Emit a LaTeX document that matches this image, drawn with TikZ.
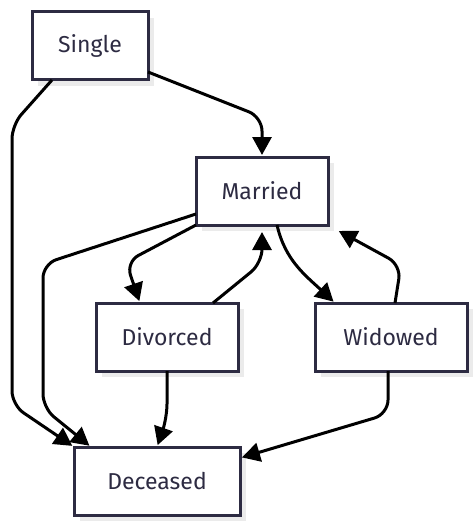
\documentclass[tikz,border=0pt]{standalone}
\usepackage{fontspec}
\setmainfont{Fira Sans}
\usepackage{xcolor}
\definecolor{borde}{HTML}{2D2B42}
\definecolor{sombra}{HTML}{EBEBEB}
\usetikzlibrary{arrows.meta,positioning,shadows}

\begin{document}
\begin{tikzpicture}[x=1pt,y=-1pt,
  estado/.style={draw=borde,line width=3pt,fill=white,text=borde,minimum height=68pt,inner sep=0pt,outer sep=0pt,
    font=\fontsize{23}{27}\selectfont,drop shadow={shadow xshift=6pt,shadow yshift=-6pt,fill=sombra,opacity=1}},
  arr/.style={-{Triangle[length=18pt,width=19pt]},line width=3pt,rounded corners=14pt,shorten >=2pt}]
\useasboundingbox (0,0) rectangle (474,532);
\node[estado,minimum width=116pt] (single) at (90,46) {Single};
\node[estado,minimum width=132pt,below right=77pt and 48pt of single] (married) {Married};
\node[estado,minimum width=142pt,below=78pt of married,xshift=-95pt] (div) {Divorced};
\node[estado,minimum width=152pt,below=78pt of married,xshift=129pt] (wid) {Widowed};
\node[estado,minimum width=166pt,below=76pt of div,xshift=-10pt] (dec) {Deceased};
\draw[arr] ([yshift=8pt]single.south east) -- (262,117) -- (married.north);
\draw[arr] ([xshift=20pt]single.south west) -- (12,125) -- (12,405) -- (dec.north west);
\draw[arr] ([yshift=-23pt]married.west) -- (43,264) -- (43,408) -- ([xshift=17pt]dec.north west);
\draw[arr] (married.south west) -- (126,262) -- ([xshift=-27pt]div.north);
\draw[arr] ([xshift=46pt]div.north) -- (262,263) -- ([yshift=-5pt]married.south);
\draw[arr] ([xshift=15pt]married.south) .. controls (285,260) and (305,275) .. ([xshift=20pt]wid.north west);
\draw[arr] ([xshift=4pt]wid.north) -- (401,265) -- ([xshift=9pt,yshift=-5pt]married.south east);
\draw[arr] (div.south) -- (167,418) -- (dec.north);
\draw[arr] ([xshift=-3pt]wid.south) -- (388,414) -- ([yshift=23pt]dec.east);
\end{tikzpicture}
\end{document}
